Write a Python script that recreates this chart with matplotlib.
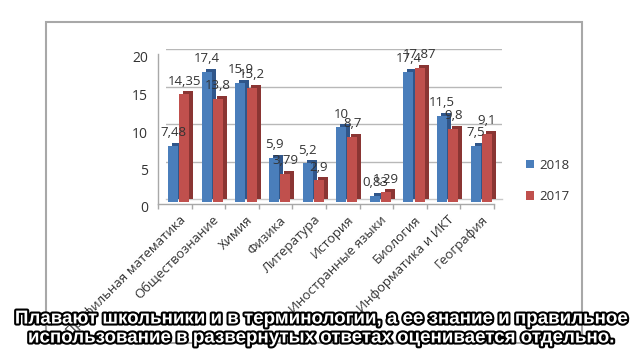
import matplotlib
matplotlib.use("Agg")
from matplotlib import pyplot as plt
from matplotlib.transforms import ScaledTranslation
import matplotlib.patheffects as pe
import numpy as np

# данные диаграммы
categories = ["Профильная математика", "Обществознание", "Химия", "Физика",
              "Литература", "История", "Иностранные языки", "Биология",
              "Информатика и ИКТ", "География"]
v2018 = [7.48, 17.4, 15.9, 5.9, 5.2, 10, 0.83, 17.4, 11.5, 7.5]
v2017 = [14.35, 13.8, 15.2, 3.79, 2.9, 8.7, 1.29, 17.87, 9.8, 9.1]
years = ["2018", "2017"]
yticks = [0, 5, 10, 15, 20]

subtitle = ["Плавают школьники и в терминологии, а ее знание и правильное",
            "использование в развернутых ответах оценивается отдельно."]

plt.rcParams["font.family"] = ["Open Sans", "DejaVu Sans"]

blue, blue_dark = "#4a7ebb", "#30568a"
red, red_dark = "#c0504d", "#8a3533"
text_c = "#333333"

fig = plt.figure(figsize=(6.4, 3.6), dpi=100)
fig.patch.set_facecolor("white")


def px(dx, dy):
    # сдвиг в пикселях (dpi = 100)
    return ScaledTranslation(dx / 100, dy / 100, fig.dpi_scale_trans)


# рамка слайда
fig.patches.append(plt.Rectangle((46 / 640, 1 - 343 / 360), 536 / 640, 321 / 360,
                                 transform=fig.transFigure, fill=False,
                                 edgecolor="#a8a8a8", linewidth=1.5))

# задняя стенка: 0 -> y=199px, 20 -> y=49px
ax = fig.add_axes([166 / 640, 1 - 199 / 360, 336 / 640, 150 / 360])
ax.set_xlim(-0.5, len(categories) - 0.5)
ax.set_ylim(0, 20)
for s in ax.spines.values():
    s.set_visible(False)
ax.set_facecolor("none")

# линии сетки
for t in yticks[1:]:
    ax.axhline(t, color="#b8b8b8", linewidth=1, zorder=0)

front = px(-8, -5)
x = np.arange(len(categories))
w = 0.3
d = 0.165

# ось и пол (передний край)
ax.plot([-0.5, -0.5], [0, 20], color="#a8a8a8", lw=1, transform=ax.transData + front, clip_on=False)
ax.plot([-0.5, 9.5], [0, 0], color="#a8a8a8", lw=1, transform=ax.transData + front, clip_on=False)
ax.plot([-0.5, 9.5], [0, 0], color="#c8c8c8", lw=1, clip_on=False)
for t in yticks:
    ax.plot([-0.5, -0.5], [t, t], color="#a8a8a8", lw=1, transform=ax.transData + front + px(-5, 0),
            clip_on=False)
ax.vlines(np.arange(-0.5, 10, 1), 0, -0.6, color="#a8a8a8", lw=1,
          transform=ax.transData + front, clip_on=False)

# столбцы: боковая грань + передняя грань
ax.bar(x - d, v2018, w, color=blue_dark, zorder=2, clip_on=False)
ax.bar(x + d, v2017, w, color=red_dark, zorder=2, clip_on=False)
ax.bar(x - d, v2018, w, color=blue, zorder=3, clip_on=False, transform=ax.transData + px(-4, -3),
       label=years[0])
ax.bar(x + d, v2017, w, color=red, zorder=3, clip_on=False, transform=ax.transData + px(-4, -3),
       label=years[1])


def fmt(v):
    return f"{v:g}".replace(".", ",")


for xi, v in zip(x - d, v2018):
    ax.annotate(fmt(v), (xi, v), xytext=(-4 * 0.72, 10 * 0.72), textcoords="offset points",
                ha="center", va="center", fontsize=9.5, color=text_c, zorder=5)
for xi, v in zip(x + d, v2017):
    ax.annotate(fmt(v), (xi, v), xytext=(-4 * 0.72, 10 * 0.72), textcoords="offset points",
                ha="center", va="center", fontsize=9.5, color=text_c, zorder=5)

ax.set_yticks(yticks)
ax.set_yticklabels([str(t) for t in yticks], fontsize=10, color=text_c)
ax.tick_params(axis="y", length=0, pad=13)
for lbl in ax.get_yticklabels():
    lbl.set_transform(lbl.get_transform() + px(0, -8))

ax.set_xticks(x)
ax.set_xticklabels(categories, rotation=45, ha="right", va="top", rotation_mode="anchor",
                   fontsize=9.5, color=text_c)
ax.tick_params(axis="x", length=0, pad=9)
for lbl in ax.get_xticklabels():
    lbl.set_transform(lbl.get_transform() + px(-4, -2))

leg = ax.legend(loc="center left", bbox_to_anchor=(514 / 640, 1 - 181 / 360),
                bbox_transform=fig.transFigure, frameon=False, fontsize=9.5,
                handlelength=0.6, handleheight=0.6, handletextpad=0.4, labelspacing=1.4)
for t in leg.get_texts():
    t.set_color(text_c)

# субтитры
for i, line in enumerate(subtitle):
    fig.text(0.5, 1 - (319 + 19 * i) / 360, line, ha="center", va="center",
             fontsize=13.5, fontweight="bold", color="white",
             family=["Liberation Sans", "DejaVu Sans"],
             path_effects=[pe.withStroke(linewidth=3, foreground="black")])

fig.savefig("out.png", dpi=100)
